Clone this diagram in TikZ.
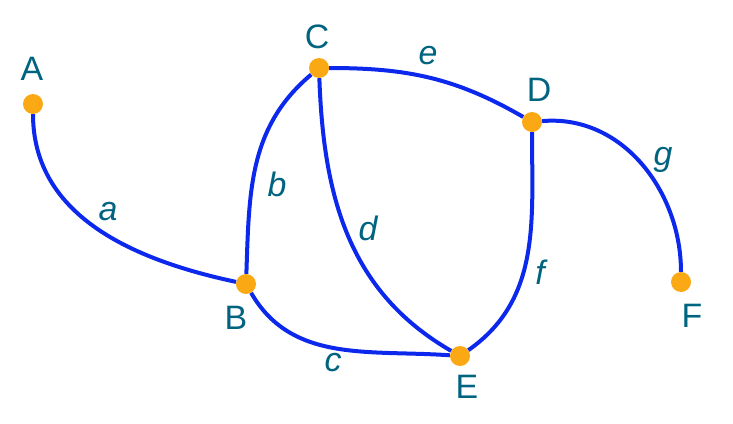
\documentclass[tikz,border=0pt]{standalone}
\usepackage{fontspec}
\setmainfont{Liberation Sans}
\definecolor{edgeblue}{RGB}{12,40,236}
\definecolor{vertorange}{RGB}{250,168,20}
\definecolor{labelteal}{RGB}{0,100,128}
\tikzset{
	vertex/.style={shape=circle, fill=vertorange, inner sep=0pt, minimum size=20bp},
	vname/.style={text=labelteal, font=\fontsize{34}{40}\selectfont, inner sep=0pt},
	elabel/.style={text=labelteal, font=\fontsize{34}{40}\selectfont\itshape, inner sep=0pt},
	link/.style={draw=edgeblue, line width=4bp}
}
\begin{document}
\begin{tikzpicture}[x=1bp, y=1bp]
	\useasboundingbox (0,0) rectangle (733,423);
	\node[vertex] (A) at (33,319) {};
	\node[vertex] (B) at (246,139) {};
	\node[vertex] (C) at (319,355) {};
	\node[vertex] (D) at (532,301) {};
	\node[vertex] (E) at (460,67) {};
	\node[vertex] (F) at (681,141) {};
	
	\path [link] (A) edge[out=-90, in=168] (B);
	\path [link] (B) edge[out=88, in=220] (C);
	\path [link] (B) edge[out=-60, in=176] (E);
	\path [link] (C) edge[out=-88, in=150] (E);
	\path [link] (C) edge[out=0, in=150] (D);
	\path [link] (D) edge[out=-90, in=35] (E);
	\path [link] (D) edge[out=5, in=90] (F);
	
	\node[vname] (lA) at (32,354) {A};
	\node[vname] (lB) at (236,105) {B};
	\node[vname] (lC) at (317,386) {C};
	\node[vname] (lD) at (539,333) {D};
	\node[vname] (lE) at (467,36) {E};
	\node[vname] (lF) at (692,107) {F};
	
	\node[elabel] (la) at (108,211) {a};
	\node[elabel] (lb) at (277,239) {b};
	\node[elabel] (lc) at (333,60) {c};
	\node[elabel] (ld) at (368,195) {d};
	\node[elabel] (le) at (428,367) {e};
	\node[elabel] (lf) at (540,151) {f};
	\node[elabel] (lg) at (663,263) {g};
\end{tikzpicture}
\end{document}
